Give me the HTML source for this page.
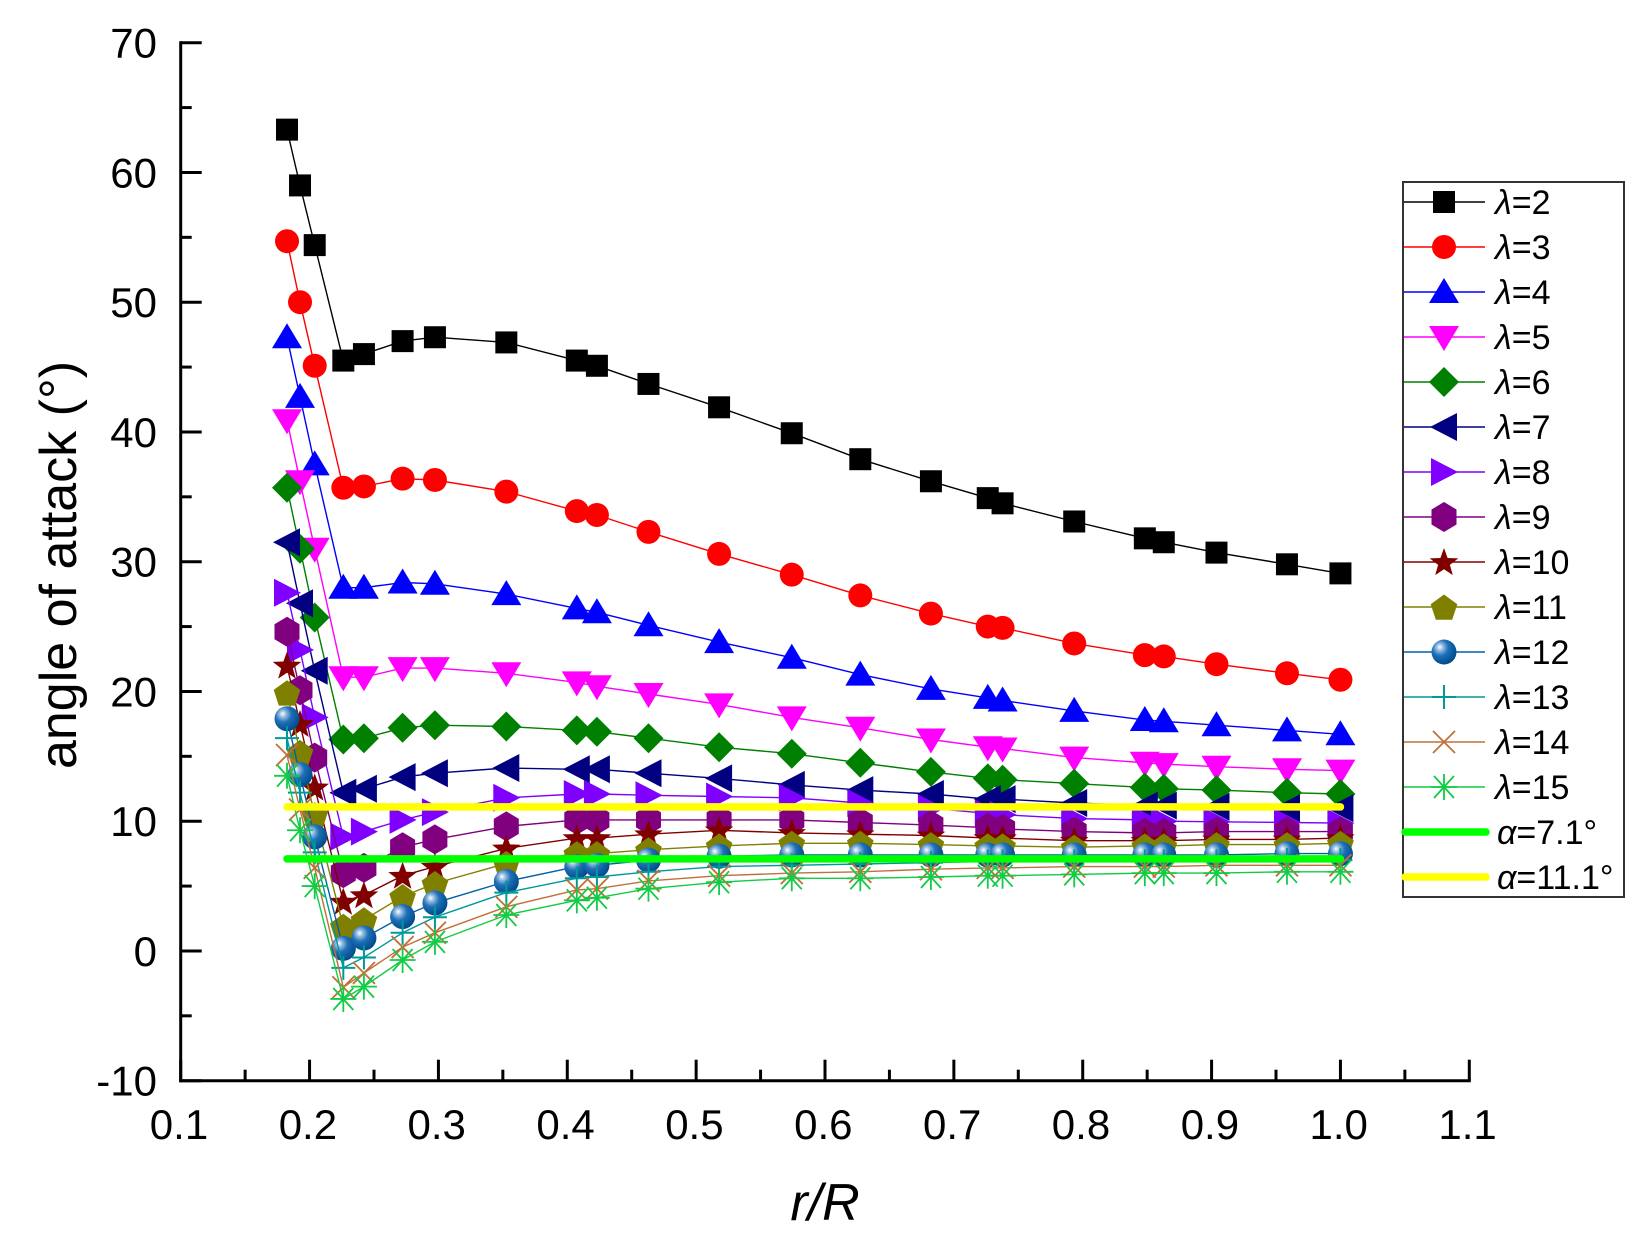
<!DOCTYPE html>
<html><head><meta charset="utf-8"><style>
html,body{margin:0;padding:0;background:#fff;}
svg{display:block;}
text{font-family:"Liberation Sans",Arial,sans-serif;fill:#000;}
</style></head><body>
<svg id="c" width="1650" height="1255" viewBox="0 0 1650 1255" xmlns="http://www.w3.org/2000/svg">
<defs>
<radialGradient id="sph" cx="0.38" cy="0.35" r="0.65" fx="0.32" fy="0.3">
<stop offset="0" stop-color="#ffffff"/>
<stop offset="0.22" stop-color="#8fb8e0"/>
<stop offset="0.5" stop-color="#1f70b8"/>
<stop offset="1" stop-color="#004c8c"/>
</radialGradient>
</defs>
<rect x="0" y="0" width="1650" height="1255" fill="#fff"/>
<g id="series"></g>
<g id="axes" stroke="#000" stroke-width="3" fill="none" stroke-linecap="square">
<line x1="180.7" y1="42.7" x2="180.7" y2="1080.7"/>
<line x1="180.7" y1="1080.7" x2="1469.3" y2="1080.7"/>
</g>
<g id="ticks" stroke="#000" stroke-width="3"></g>
<g font-size="42">
<text x="157" y="57.7" text-anchor="end">70</text>
<text x="157" y="187.5" text-anchor="end">60</text>
<text x="157" y="317.2" text-anchor="end">50</text>
<text x="157" y="447" text-anchor="end">40</text>
<text x="157" y="576.7" text-anchor="end">30</text>
<text x="157" y="706.5" text-anchor="end">20</text>
<text x="157" y="836.2" text-anchor="end">10</text>
<text x="157" y="966" text-anchor="end">0</text>
<text x="157" y="1095.7" text-anchor="end">-10</text>
<text x="179" y="1139" text-anchor="middle">0.1</text>
<text x="307.9" y="1139" text-anchor="middle">0.2</text>
<text x="436.7" y="1139" text-anchor="middle">0.3</text>
<text x="565.6" y="1139" text-anchor="middle">0.4</text>
<text x="694.4" y="1139" text-anchor="middle">0.5</text>
<text x="823.3" y="1139" text-anchor="middle">0.6</text>
<text x="952.2" y="1139" text-anchor="middle">0.7</text>
<text x="1081" y="1139" text-anchor="middle">0.8</text>
<text x="1209.9" y="1139" text-anchor="middle">0.9</text>
<text x="1338.7" y="1139" text-anchor="middle">1.0</text>
<text x="1467.6" y="1139" text-anchor="middle">1.1</text>
</g>
<text x="825" y="1220" font-size="52" font-style="italic" text-anchor="middle">r/R</text>
<text transform="translate(76,565) rotate(-90)" font-size="52" text-anchor="middle">angle of attack (°)</text>
<rect x="1403" y="182" width="221" height="715" fill="#fff" stroke="#333" stroke-width="2"/>
<g id="legend"></g>
<g font-size="34">
<text x="1495" y="214"><tspan font-style="italic">λ</tspan>=2</text>
<text x="1495" y="259"><tspan font-style="italic">λ</tspan>=3</text>
<text x="1495" y="304"><tspan font-style="italic">λ</tspan>=4</text>
<text x="1495" y="349"><tspan font-style="italic">λ</tspan>=5</text>
<text x="1495" y="394"><tspan font-style="italic">λ</tspan>=6</text>
<text x="1495" y="439"><tspan font-style="italic">λ</tspan>=7</text>
<text x="1495" y="484"><tspan font-style="italic">λ</tspan>=8</text>
<text x="1495" y="529"><tspan font-style="italic">λ</tspan>=9</text>
<text x="1495" y="574"><tspan font-style="italic">λ</tspan>=10</text>
<text x="1495" y="619"><tspan font-style="italic">λ</tspan>=11</text>
<text x="1495" y="664"><tspan font-style="italic">λ</tspan>=12</text>
<text x="1495" y="709"><tspan font-style="italic">λ</tspan>=13</text>
<text x="1495" y="754"><tspan font-style="italic">λ</tspan>=14</text>
<text x="1495" y="799"><tspan font-style="italic">λ</tspan>=15</text>
<text x="1497" y="844"><tspan font-style="italic">α</tspan>=7.1°</text>
<text x="1497" y="889"><tspan font-style="italic">α</tspan>=11.1°</text>
</g>
</svg>
<script>
(function(){
var X=function(r){return 180.7+(r-0.1)*1288.6;};
var Y=function(v){return 950.95-v*12.975;};
var R=[0.1825,0.1926,0.204,0.2262,0.2422,0.2722,0.2973,0.3527,0.4074,0.4230,0.4630,0.5178,0.5742,0.6274,0.6822,0.7263,0.7378,0.7934,0.8482,0.8629,0.9038,0.9585,1.0];
var S=[
{c:'#000000',m:'sq',v:[63.3,59.0,54.4,45.5,46.0,47.0,47.3,46.9,45.5,45.1,43.7,41.9,39.9,37.9,36.2,34.9,34.5,33.1,31.8,31.5,30.7,29.8,29.1]},
{c:'#ff0000',m:'ci',v:[54.7,50.0,45.1,35.7,35.8,36.4,36.3,35.4,33.9,33.6,32.3,30.6,29.0,27.4,26.0,25.0,24.9,23.7,22.8,22.7,22.1,21.4,20.9]},
{c:'#0000ff',m:'tu',v:[47.3,42.7,37.5,28.0,28.0,28.4,28.3,27.5,26.4,26.1,25.1,23.8,22.6,21.3,20.2,19.5,19.3,18.5,17.8,17.7,17.4,17.0,16.7]},
{c:'#ff00ff',m:'td',v:[40.9,36.2,31.0,21.1,21.1,21.8,21.8,21.4,20.7,20.4,19.8,19.0,18.0,17.2,16.3,15.7,15.6,14.9,14.5,14.4,14.2,14.0,13.9]},
{c:'#008000',m:'di',v:[35.7,31.0,25.7,16.3,16.4,17.2,17.4,17.3,17.0,16.9,16.4,15.7,15.2,14.5,13.8,13.3,13.2,12.9,12.6,12.5,12.4,12.2,12.1]},
{c:'#000080',m:'tl',v:[31.5,26.8,21.6,12.2,12.5,13.4,13.7,14.1,14.0,14.0,13.7,13.3,12.8,12.4,12.1,11.7,11.7,11.4,11.2,11.2,11.1,11.0,11.0]},
{c:'#8000ff',m:'tr',v:[27.6,23.2,18.0,8.8,9.2,10.1,10.7,11.8,12.1,12.1,12.0,11.9,11.8,11.4,11.0,10.6,10.5,10.2,10.1,10.0,9.95,9.9,9.85]},
{c:'#800080',m:'hx',v:[24.6,20.1,14.9,6.0,6.4,8.0,8.6,9.6,10.1,10.1,10.1,10.1,10.1,9.9,9.7,9.5,9.4,9.2,9.1,9.1,9.2,9.2,9.2]},
{c:'#800000',m:'st',v:[22.0,17.5,12.6,3.8,4.3,5.8,6.5,7.9,8.7,8.7,9.0,9.3,9.1,9.0,8.9,8.7,8.7,8.5,8.5,8.5,8.6,8.6,8.7]},
{c:'#808000',m:'pe',v:[19.9,15.3,10.5,1.9,2.4,4.2,5.2,6.75,7.5,7.5,7.8,8.1,8.3,8.3,8.2,8.1,8.1,8.0,8.1,8.1,8.2,8.2,8.3]},
{c:'#0060a8',m:'sp',v:[17.9,13.6,8.8,0.2,1.0,2.65,3.7,5.35,6.5,6.6,7.0,7.3,7.4,7.4,7.4,7.4,7.4,7.4,7.4,7.4,7.4,7.5,7.5]},
{c:'#009999',m:'pl',v:[16.4,12.2,7.6,-1.3,-0.5,1.4,2.6,4.5,5.6,5.7,6.1,6.5,6.6,6.7,6.8,6.9,6.9,6.9,6.9,6.9,6.9,7.0,7.0]},
{c:'#c07038',m:'xx',v:[15.1,10.9,6.4,-2.8,-1.7,0.3,1.4,3.4,4.7,4.8,5.4,5.8,6.0,6.1,6.3,6.4,6.4,6.5,6.5,6.5,6.6,6.6,6.6]},
{c:'#11cc44',m:'as',v:[13.5,9.3,5.0,-3.7,-2.75,-0.7,0.7,2.77,3.9,4.1,4.8,5.3,5.6,5.6,5.7,5.8,5.8,5.9,6.0,6.0,6.0,6.1,6.1]}
];
function P(x,y,pts){return pts.map(function(p){return (x+p[0]).toFixed(1)+','+(y+p[1]).toFixed(1);}).join(' ');}
function mk(m,c,x,y){
 switch(m){
 case 'sq': return '<rect x="'+(x-11)+'" y="'+(y-11)+'" width="22" height="22" fill="'+c+'"/>';
 case 'ci': return '<circle cx="'+x+'" cy="'+y+'" r="12" fill="'+c+'"/>';
 case 'tu': return '<polygon points="'+P(x,y,[[0,-14],[15,11],[-15,11]])+'" fill="'+c+'"/>';
 case 'td': return '<polygon points="'+P(x,y,[[-15,-11],[15,-11],[0,14]])+'" fill="'+c+'"/>';
 case 'di': return '<polygon points="'+P(x,y,[[0,-15],[15,0],[0,15],[-15,0]])+'" fill="'+c+'"/>';
 case 'tl': return '<polygon points="'+P(x,y,[[-14,0],[13,-14],[13,14]])+'" fill="'+c+'"/>';
 case 'tr': return '<polygon points="'+P(x,y,[[14,0],[-13,-14],[-13,14]])+'" fill="'+c+'"/>';
 case 'hx': return '<polygon points="'+P(x,y,[[0,-15],[12.5,-7.5],[12.5,7.5],[0,15],[-12.5,7.5],[-12.5,-7.5]])+'" fill="'+c+'"/>';
 case 'st': {var pts=[];for(var i=0;i<10;i++){var a=-Math.PI/2+i*Math.PI/5;var rr=(i%2==0)?15:6.2;pts.push([rr*Math.cos(a),rr*Math.sin(a)+1]);}
   return '<polygon points="'+P(x,y,pts)+'" fill="'+c+'"/>';}
 case 'pe': {var pts=[];for(var i=0;i<5;i++){var a=-Math.PI/2+i*2*Math.PI/5;pts.push([14*Math.cos(a),14*Math.sin(a)+1.5]);}
   return '<polygon points="'+P(x,y,pts)+'" fill="'+c+'"/>';}
 case 'sp': return '<circle cx="'+x+'" cy="'+y+'" r="12.5" fill="url(#sph)"/>';
 case 'pl': return '<path d="M'+(x-12)+' '+y+'H'+(x+12)+'M'+x+' '+(y-12)+'V'+(y+12)+'" stroke="'+c+'" stroke-width="2" fill="none"/>';
 case 'xx': return '<path d="M'+(x-11)+' '+(y-11)+'L'+(x+11)+' '+(y+11)+'M'+(x+11)+' '+(y-11)+'L'+(x-11)+' '+(y+11)+'" stroke="'+c+'" stroke-width="1.8" fill="none"/>';
 case 'as': return '<path d="M'+(x-13)+' '+y+'H'+(x+13)+'M'+x+' '+(y-13)+'V'+(y+13)+'M'+(x-10)+' '+(y-11)+'L'+(x+10)+' '+(y+11)+'M'+(x+10)+' '+(y-11)+'L'+(x-10)+' '+(y+11)+'" stroke="'+c+'" stroke-width="1.8" fill="none"/>';
 }
 return '';
}
var h='';
S.forEach(function(s){
 var pts=R.map(function(r,i){return X(r).toFixed(1)+','+Y(s.v[i]).toFixed(1);}).join(' ');
 h+='<polyline points="'+pts+'" fill="none" stroke="'+s.c+'" stroke-width="1.4"/>';
 R.forEach(function(r,i){h+=mk(s.m,s.c,X(r),Y(s.v[i]));});
});
h+='<line x1="'+X(0.1825)+'" y1="'+Y(7.1)+'" x2="'+X(1.0)+'" y2="'+Y(7.1)+'" stroke="#00ff00" stroke-width="7.5" stroke-linecap="round"/>';
h+='<line x1="'+X(0.1825)+'" y1="'+Y(11.1)+'" x2="'+X(1.0)+'" y2="'+Y(11.1)+'" stroke="#ffff00" stroke-width="7.5" stroke-linecap="round"/>';
document.getElementById('series').innerHTML=h;
var t='';
for(var v=-10;v<=70;v+=5){var y=Y(v);var L=(v%10==0)?21:11;t+='<line x1="180.7" y1="'+y+'" x2="'+(180.7+L)+'" y2="'+y+'"/>';}
for(var k=0;k<=20;k++){var r=0.1+k*0.05;var x=X(r);var L=(k%2==0)?21:11;t+='<line x1="'+x+'" y1="1080.7" x2="'+x+'" y2="'+(1080.7-L)+'"/>';}
document.getElementById('ticks').innerHTML=t;
var lg='';
S.forEach(function(s,i){var y=202+45*i;
 lg+='<line x1="1404" y1="'+y+'" x2="1485" y2="'+y+'" stroke="'+s.c+'" stroke-width="1.4"/>';
 lg+=mk(s.m,s.c,1444,y);
});
lg+='<line x1="1405" y1="832" x2="1486" y2="832" stroke="#00ff00" stroke-width="7.5" stroke-linecap="round"/>';
lg+='<line x1="1405" y1="877" x2="1486" y2="877" stroke="#ffff00" stroke-width="7.5" stroke-linecap="round"/>';
document.getElementById('legend').innerHTML=lg;
})();
</script>
</body></html>
